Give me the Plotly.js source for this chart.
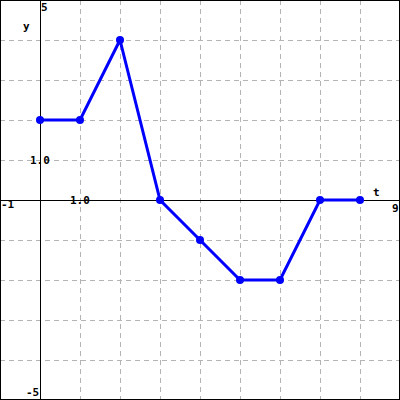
<!DOCTYPE html>
<html>
<head>
<meta charset="utf-8">
<script src="https://cdn.plot.ly/plotly-3.0.1.min.js"></script>
<style>
  html, body { margin: 0; padding: 0; background: #fff; }
  #myDiv { width: 400px; height: 400px; }
</style>
</head>
<body>
<div id="myDiv"></div>
<script>
var tValues = [0, 1, 2, 3, 4, 5, 6, 7, 8];
var yValues = [2, 2, 4, 0, -1, -2, -2, 0, 0];

var xRange = [-1, 9];
var yRange = [-5, 5];

// labels drawn as text on the plot: [text, x, y, xanchor, yanchor]
var labels = [
    ['5', 0, 5, 'left', 'top'],
    ['y', -0.35, 4.33, 'center', 'middle'],
    ['1.0', 0, 1, 'center', 'middle'],
    ['1.0', 1, 0, 'center', 'middle'],
    ['-1', -1, -0.12, 'left', 'middle'],
    ['9', 9, -0.2, 'right', 'middle'],
    ['t', 8.4, 0.18, 'center', 'middle'],
    ['-5', 0, -5, 'right', 'bottom']
];

var labelFont = {family: 'DejaVu Sans Mono', size: 11, color: '#000', weight: 'bold'};

var trace1 = {
    type: 'scatter',
    mode: 'lines+markers',
    x: tValues,
    y: yValues,
    line: {color: '#0000ff', width: 3},
    marker: {color: '#0000ff', size: 8},
    hoverinfo: 'skip'
};

var annotations = labels.map(function(l) {
    return {
        text: l[0], x: l[1], y: l[2], xref: 'x', yref: 'y',
        xanchor: l[3], yanchor: l[4], showarrow: false,
        font: labelFont, borderpad: 0
    };
});

var axisCommon = {
    dtick: 1,
    showgrid: true,
    gridcolor: '#b4b4b4',
    gridwidth: 1,
    griddash: '5px,4px',
    zeroline: true,
    zerolinecolor: '#000',
    zerolinewidth: 1,
    showticklabels: false,
    ticks: '',
    showline: false,
    fixedrange: true
};

var layout = {
    width: 400,
    height: 400,
    margin: {l: 0, r: 0, t: 0, b: 0},
    paper_bgcolor: '#fff',
    plot_bgcolor: '#fff',
    showlegend: false,
    xaxis: Object.assign({range: xRange, tick0: 0}, axisCommon),
    yaxis: Object.assign({range: yRange, tick0: 0}, axisCommon),
    annotations: annotations,
    shapes: [{
        type: 'rect', xref: 'paper', yref: 'paper',
        x0: 0, x1: 1, y0: 0, y1: 1,
        line: {color: '#000', width: 2}
    }]
};

Plotly.newPlot('myDiv', [trace1], layout, {staticPlot: true});
</script>
</body>
</html>
